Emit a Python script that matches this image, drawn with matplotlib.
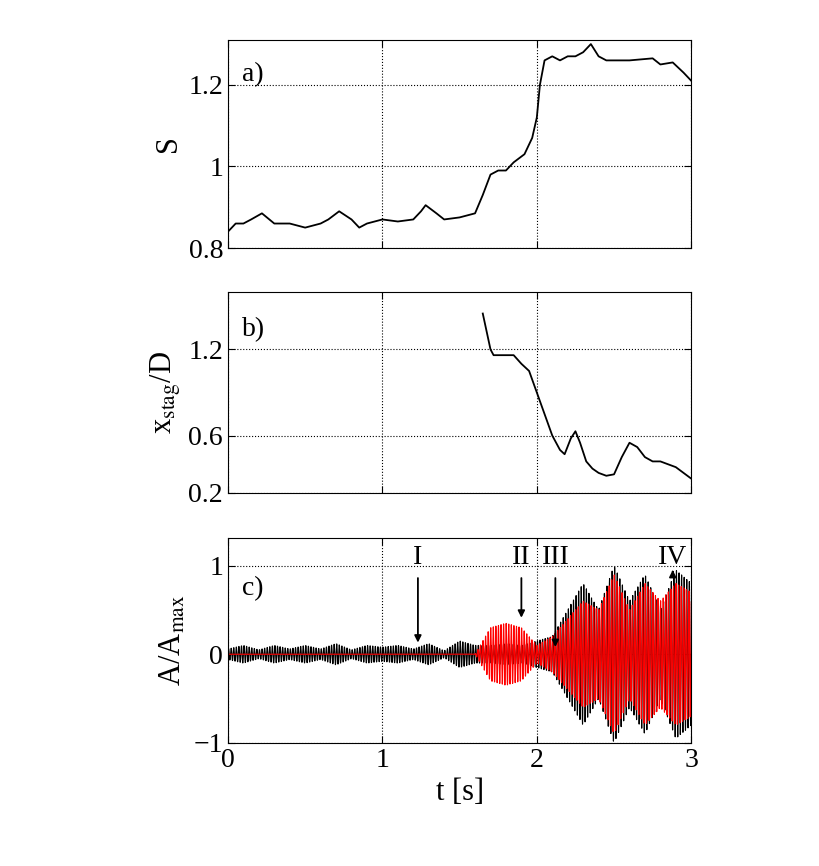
import numpy as np
import matplotlib
matplotlib.use("Agg")
import matplotlib.pyplot as plt

plt.rcParams['font.family'] = ['Liberation Serif', 'DejaVu Serif']
plt.rcParams['mathtext.fontset'] = 'stix'

# panel a
t_s = [0,0.05,0.1,0.15,0.22,0.3,0.4,0.5,0.6,0.65,0.72,0.8,0.85,0.9,1.0,1.1,1.2,1.25,1.28,1.35,1.4,1.5,1.6,1.65,1.7,1.75,1.8,1.85,1.92,1.97,2.0,2.02,2.05,2.1,2.15,2.2,2.25,2.3,2.35,2.4,2.45,2.6,2.75,2.8,2.88,2.95,3.0]
s_vals = [0.84,0.86,0.86,0.87,0.885,0.86,0.86,0.85,0.86,0.87,0.89,0.87,0.85,0.86,0.87,0.865,0.87,0.89,0.905,0.885,0.87,0.875,0.885,0.93,0.98,0.99,0.99,1.01,1.03,1.07,1.12,1.2,1.26,1.27,1.26,1.27,1.27,1.28,1.3,1.27,1.26,1.26,1.265,1.25,1.255,1.23,1.21]

# panel b
t_x = [1.65,1.7,1.72,1.8,1.85,1.9,1.95,2.0,2.05,2.1,2.15,2.18,2.22,2.25,2.28,2.32,2.36,2.4,2.45,2.5,2.55,2.6,2.65,2.7,2.75,2.8,2.9,2.95,3.0]
x_vals = [1.45,1.2,1.16,1.16,1.16,1.1,1.05,0.9,0.75,0.6,0.5,0.47,0.58,0.63,0.55,0.42,0.37,0.34,0.32,0.33,0.45,0.55,0.52,0.45,0.42,0.42,0.38,0.34,0.3]

# panel c: envelopes
t_env = [0,0.1,0.2,0.3,0.4,0.5,0.6,0.7,0.8,0.9,1.0,1.1,1.2,1.3,1.4,1.5,1.6,1.7,1.8,1.9,2.0,2.1,2.2,2.3,2.4,2.5,2.6,2.7,2.8,2.9,3.0]
black_env = [0.06,0.1,0.05,0.1,0.06,0.1,0.06,0.12,0.05,0.1,0.08,0.1,0.06,0.12,0.04,0.15,0.1,0.1,0.12,0.1,0.15,0.2,0.5,0.8,0.5,1.0,0.6,0.9,0.5,0.95,0.8]
red_env = [0,0,0,0,0,0,0,0,0,0,0,0,0,0,0,0,0,0.3,0.35,0.3,0.1,0.2,0.4,0.6,0.5,0.9,0.5,0.8,0.6,0.8,0.7]

fig = plt.figure(figsize=(8.2, 8.66), dpi=100)
ax_a = fig.add_axes([0.278, 1-248/866, 0.565, 208/866])
ax_b = fig.add_axes([0.278, 1-493/866, 0.565, 201/866])
ax_c = fig.add_axes([0.278, 1-743/866, 0.565, 205/866])

ax_a.plot(t_s, s_vals, color='k', lw=1.3)
ax_a.set_ylim(0.8, 1.31); ax_a.set_yticks([0.8, 1, 1.2]); ax_a.set_yticklabels(['0.8', '1', '1.2'])
ax_a.set_ylabel('S')
ax_a.text(0.03, 0.8, 'a)', transform=ax_a.transAxes, fontsize=20)

ax_b.plot(t_x, x_vals, color='k', lw=1.3)
ax_b.set_ylim(0.2, 1.6); ax_b.set_yticks([0.2, 0.6, 1.2])
ax_b.set_ylabel(r'x$_{\mathrm{stag}}$/D')
ax_b.text(0.03, 0.78, 'b)', transform=ax_b.transAxes, fontsize=20)

tt = np.linspace(0, 3, 6000)
be = np.interp(tt, t_env, black_env)
re = np.interp(tt, t_env, red_env)
ax_c.plot(tt, be*np.sin(2*np.pi*60*tt), color='k', lw=0.8)
ax_c.plot(tt, re*np.sin(2*np.pi*60*tt+1.0), color='red', lw=0.8)
ax_c.set_ylim(-1, 1.31); ax_c.set_yticks([-1, 0, 1])
ax_c.set_ylabel(r'A/A$_{\mathrm{max}}$')
ax_c.set_xlabel('t [s]')
ax_c.text(0.03, 0.72, 'c)', transform=ax_c.transAxes, fontsize=20)

for lab, x, ytxt, yarr in [('I', 1.23, 0.95, 0.1), ('II', 1.9, 0.95, 0.38), ('III', 2.12, 0.95, 0.05), ('IV', 2.88, 0.95, 0.95)]:
    ax_c.annotate('', xy=(x, yarr), xytext=(x, ytxt-0.06),
                  arrowprops=dict(arrowstyle='-|>', color='k', lw=1.3))
    ax_c.text(x, ytxt, lab, ha='center', va='bottom', fontsize=20)

for ax in (ax_a, ax_b, ax_c):
    ax.set_xlim(0, 3)
    ax.set_xticks([0, 1, 2, 3])
    ax.grid(True, color='k', linestyle=':', lw=0.8)
    ax.tick_params(direction='in', labelsize=20, top=True, right=True, length=5)
    ax.yaxis.label.set_size(22)
ax_a.set_xticklabels([]); ax_b.set_xticklabels([])
ax_c.xaxis.label.set_size(22)
fig.savefig('out.png', dpi=100)
